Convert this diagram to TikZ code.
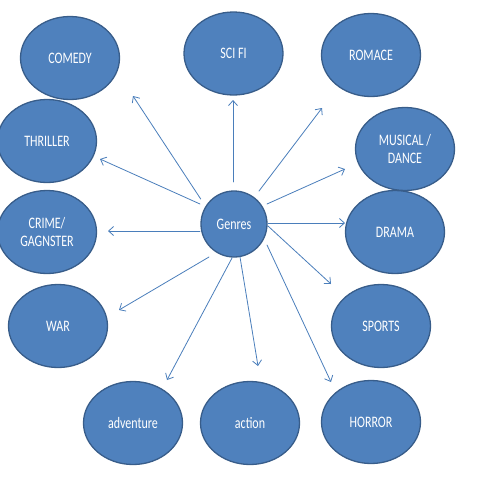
\documentclass[tikz,border=0pt]{standalone}
\usepackage{fontspec}
\newfontfamily\genrefont[FakeStretch=0.75]{Carlito}
\usetikzlibrary{shapes.geometric,arrows.meta}
\definecolor{bubblefill}{HTML}{4F81BD}
\definecolor{bubbleline}{HTML}{385D8A}
\definecolor{arrowline}{HTML}{4A7EBB}

\begin{document}
\begin{tikzpicture}[x=1pt,y=-1pt,line cap=round,line join=round,
	bubble/.style={ellipse,fill=bubblefill,draw=bubbleline,line width=1.3pt,
		minimum width=99pt,minimum height=83pt,inner sep=0pt,text=white,
		align=center,font=\genrefont\fontsize{16}{18.5}\selectfont},
	hub/.style={bubble,minimum width=66pt,minimum height=66pt},
	ray/.style={draw=arrowline,line width=0.8pt,-{Straight Barb[length=5pt,width=9pt]}}]
		\useasboundingbox (0,0) rectangle (480,480);
		% genre bubbles
		\node[hub] (genres) at (234,224) {Genres};
		\node[bubble] (comedy) at (70,58) {COMEDY};
		\node[bubble] (scifi) at (233.5,53.5) {SCI FI};
		\node[bubble] (romace) at (371,55) {ROMACE};
		\node[bubble] (thriller) at (47,141) {THRILLER};
		\node[bubble] (musical) at (405,149) {MUSICAL /\\DANCE};
		\node[bubble] (crime) at (47,232) {CRIME/\\GAGNSTER};
		\node[bubble] (drama) at (395,232) {DRAMA};
		\node[bubble] (war) at (58,326) {WAR};
		\node[bubble] (sports) at (381,326) {SPORTS};
		\node[bubble] (adventure) at (133,423) {adventure};
		\node[bubble] (action) at (250,423) {action};
		\node[bubble] (horror) at (371,422) {HORROR};
		% arrows out of the hub
		\foreach \name/\sx/\sy/\ex/\ey in {comedy/200.7/199/133/96, scifi/233/182/233/100,
			romace/259/191/322/108, thriller/200/204/100/159, musical/267/204/345/169,
			crime/200/231/108/231, drama/268/223/345/223, war/209/257/119/310,
			sports/268/226/331/284, adventure/232/258/167/380, action/240/257/258/366,
			horror/267/245/331/382}{
			\coordinate (\name-from) at (\sx,\sy);
			\coordinate (\name-to) at (\ex,\ey);
			\draw[ray] (\name-from) -- (\name-to);
		}
	\end{tikzpicture}
\end{document}
